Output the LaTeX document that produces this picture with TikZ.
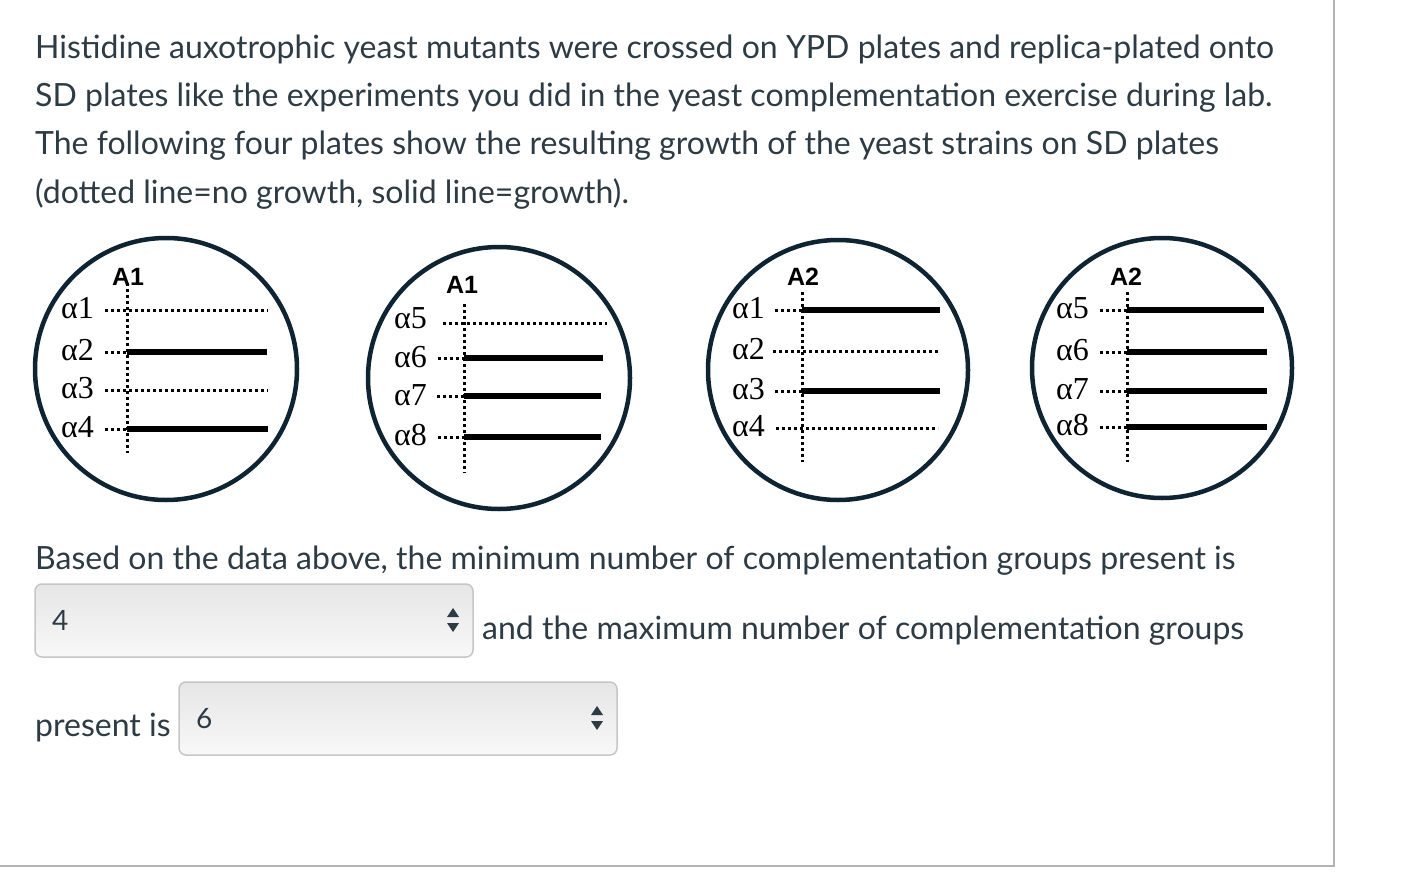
\documentclass[tikz,border=0pt]{standalone}
\usepackage{fontspec}
\setmainfont{Lato}
\newfontfamily\alfont{Liberation Serif}
\newfontfamily\platefont{Liberation Sans}
\definecolor{txt}{HTML}{2D3B45}
\definecolor{platec}{HTML}{0F2433}
\definecolor{framec}{HTML}{B3B3B3}
\definecolor{boxedge}{HTML}{C6C6C6}
\definecolor{boxtop}{HTML}{E6E6E6}
\definecolor{boxbot}{HTML}{F8F8F8}
\tikzset{
  body/.style={inner sep=0pt, anchor=base west, text=txt, font=\fontsize{32}{40}\selectfont},
  plate/.style={draw=platec, line width=4.5pt, fill=white},
  platelab/.style={inner sep=0pt, font=\platefont\bfseries\fontsize{25}{28}\selectfont, text=black},
  allab/.style={inner sep=0pt, anchor=base west, font=\alfont\fontsize{32}{33}\selectfont, text=black},
  nogrowline/.style={line width=3pt, dash pattern=on 3pt off 3pt},
  growline/.style={line width=6pt},
  spine/.style={line width=3pt, dash pattern=on 3pt off 3pt},
  dropbox/.style={draw=boxedge, line width=1.5pt, rounded corners=7pt, top color=boxtop, bottom color=boxbot},
  boxval/.style={inner sep=0pt, anchor=base west, text=txt, font=\fontsize{28}{30}\selectfont},
}
\begin{document}
\begin{tikzpicture}[x=1pt,y=-1pt]
\useasboundingbox (0,0) rectangle (1422,888);
\fill[white] (0,0) rectangle (1422,888);
% frame
\draw[framec, line width=2pt] (1334,0) -- (1334,866) -- (0,866);

% text
\node[body] (t1) at (35,59) {Histidine auxotrophic yeast mutants were crossed on YPD plates and replica-plated onto};
\node[body] (t2) at (35,107) {SD plates like the experiments you did in the yeast complementation exercise during lab.};
\node[body] (t3) at (35,155) {The following four plates show the resulting growth of the yeast strains on SD plates};
\node[body] (t4) at (35,203) {(dotted line=no growth, solid line=growth).};

% plate 1
\draw[plate] (166,369) circle (131);
\node[platelab] (p1a) at (128,277) {A1};
\draw[spine] (127,283) -- (127,453);
\node[allab] (p1r1) at (61,318) {α1};
\node[allab] (p1r2) at (61,360) {α2};
\node[allab] (p1r3) at (61,398) {α3};
\node[allab] (p1r4) at (61,437) {α4};
\draw[nogrowline] (105,310) -- (268,310);
\draw[nogrowline] (105,352) -- (127,352); \draw[growline] (127,352) -- (267,352);
\draw[nogrowline] (105,390) -- (268,390);
\draw[nogrowline] (105,429) -- (127,429); \draw[growline] (127,429) -- (268,429);

% plate 2
\draw[plate] (499,378) circle (131);
\node[platelab] (p2a) at (462,285) {A1};
\draw[spine] (464,304) -- (464,473);
\node[allab] (p2r1) at (394,328) {α5};
\node[allab] (p2r2) at (394,367) {α6};
\node[allab] (p2r3) at (394,405) {α7};
\node[allab] (p2r4) at (394,445) {α8};
\draw[nogrowline] (443,323) -- (607,323);
\draw[nogrowline] (438,358) -- (464,358); \draw[growline] (464,358) -- (603,358);
\draw[nogrowline] (437,396) -- (484,396); \draw[growline] (464,396) -- (601,396);
\draw[nogrowline] (438,437) -- (464,437); \draw[growline] (464,437) -- (601,437);

% plate 3
\draw[plate] (838,370) circle (130);
\node[platelab] (p3a) at (803,277) {A2};
\draw[spine] (802,292) -- (802,462);
\node[allab] (p3r1) at (732,318) {α1};
\node[allab] (p3r2) at (732,359) {α2};
\node[allab] (p3r3) at (732,399) {α3};
\node[allab] (p3r4) at (732,436) {α4};
\draw[nogrowline] (775,310) -- (802,310); \draw[growline] (802,310) -- (940,310);
\draw[nogrowline] (773,351) -- (938,351);
\draw[nogrowline] (775,391) -- (802,391); \draw[growline] (802,391) -- (940,391);
\draw[nogrowline] (776,428) -- (938,428);

% plate 4
\draw[plate] (1162,368) circle (130);
\node[platelab] (p4a) at (1126,277) {A2};
\draw[spine] (1127,292) -- (1127,462);
\node[allab] (p4r1) at (1056,318) {α5};
\node[allab] (p4r2) at (1056,360) {α6};
\node[allab] (p4r3) at (1056,399) {α7};
\node[allab] (p4r4) at (1056,435) {α8};
\draw[nogrowline] (1100,310) -- (1127,310); \draw[growline] (1127,310) -- (1264,310);
\draw[nogrowline] (1100,352) -- (1127,352); \draw[growline] (1127,352) -- (1267,352);
\draw[nogrowline] (1100,391) -- (1127,391); \draw[growline] (1127,391) -- (1267,391);
\draw[nogrowline] (1100,427) -- (1127,427); \draw[growline] (1127,427) -- (1267,427);

% question text
\node[body] (q1) at (35,569) {Based on the data above, the minimum number of complementation groups present is};
\draw[dropbox] (35,584) rectangle (473,657);
\node[boxval] (v1) at (52,630) {4};
\fill[txt] (447,617) -- (459,617) -- (453,608) -- cycle;
\fill[txt] (447,623) -- (459,623) -- (453,632) -- cycle;
\node[body] (q2) at (482,639) {and the maximum number of complementation groups};
\node[body] (q3) at (35,736) {present is};
\draw[dropbox] (179,682) rectangle (617,755);
\node[boxval] (v2) at (196,728) {6};
\fill[txt] (591,715) -- (603,715) -- (597,706) -- cycle;
\fill[txt] (591,721) -- (603,721) -- (597,730) -- cycle;
\end{tikzpicture}
\end{document}
